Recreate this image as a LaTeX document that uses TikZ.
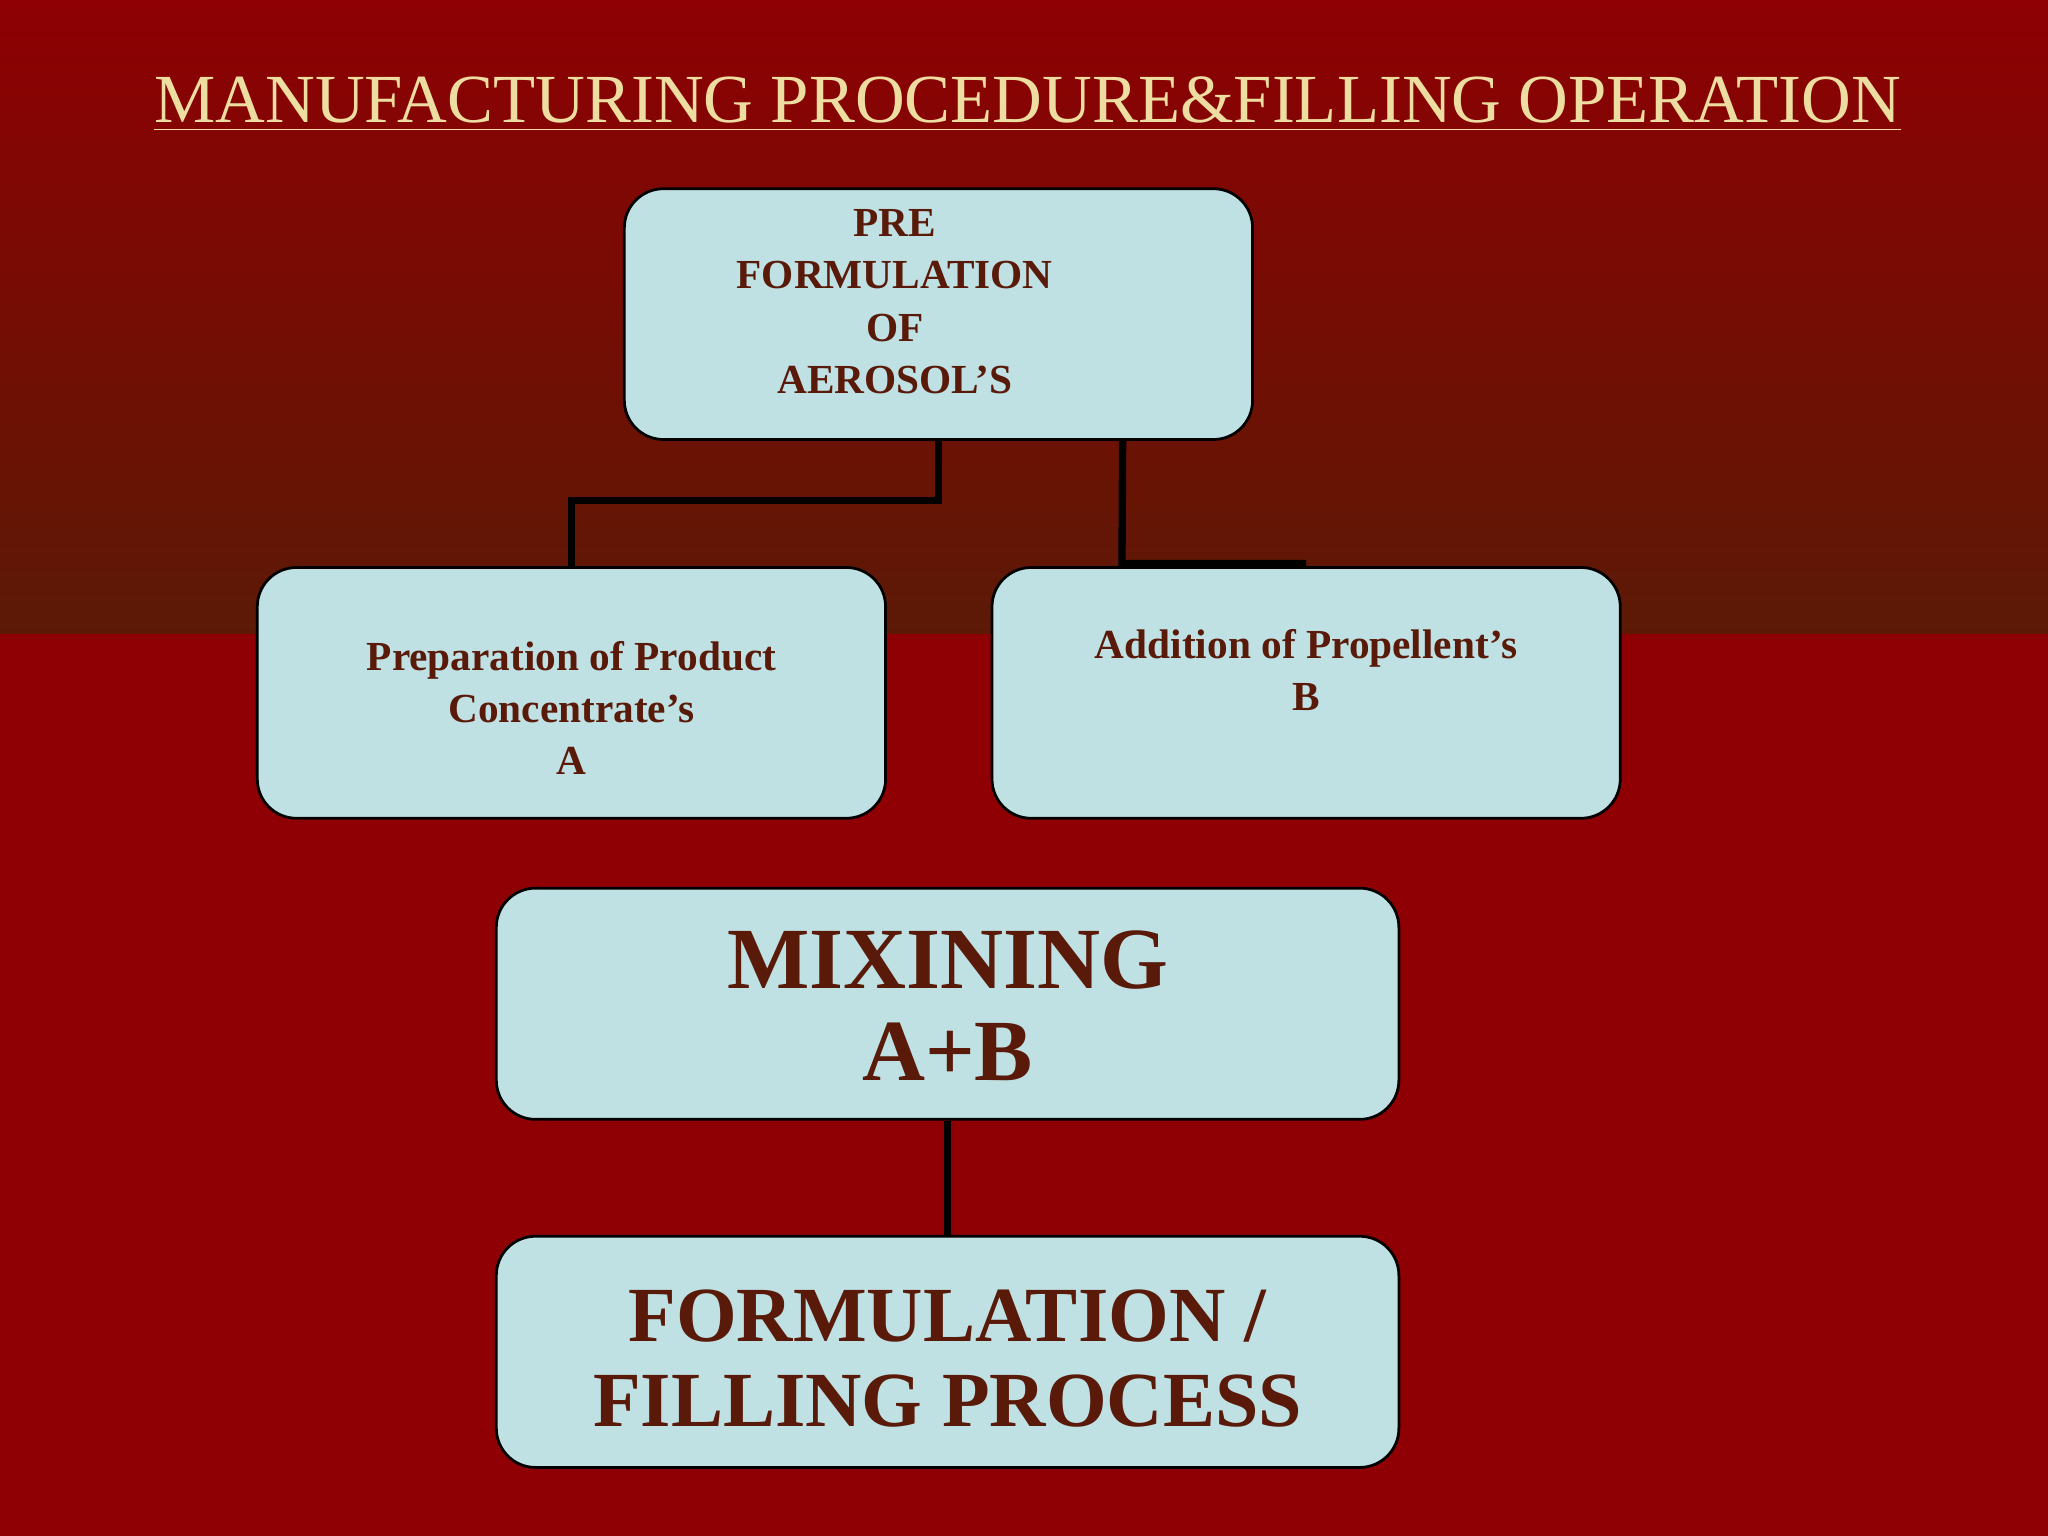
\documentclass[tikz,border=0pt]{standalone}
\usepackage{fontspec}
\setmainfont{Liberation Serif}
\usetikzlibrary{calc}
\definecolor{bgred}{HTML}{8E0003}
\definecolor{bgbrown}{HTML}{5C1A06}
\definecolor{boxfill}{HTML}{BFE1E4}
\definecolor{txt}{HTML}{5A1A0A}
\definecolor{cream}{HTML}{EEDDA0}
\tikzset{box/.style={draw=black, fill=boxfill, rounded corners=0.3cm, minimum width=4.81cm, minimum height=1.92cm, line width=0.6pt},
  lbl/.style={text=txt, font=\bfseries, align=center},
  link/.style={draw=black, line width=1.6pt}}
\begin{document}
\begin{tikzpicture}

\useasboundingbox (0,0) rectangle (15.68,-11.76);
\fill[bgred] (0,0) rectangle (15.68,-11.76);
\shade[top color=bgred, bottom color=bgbrown] (0,0) rectangle (15.68,-4.85);

\node[text=cream, font=\fontsize{15}{18}\selectfont] (title) at (7.87,-0.80) {\underline{MANUFACTURING PROCEDURE\&FILLING OPERATION}};

\node[box] (pre) at (7.185,-2.405) {};
\node[lbl, font=\bfseries\fontsize{9}{11.4}\selectfont] (pretext) at (6.85,-2.31) {PRE\\FORMULATION\\OF\\AEROSOL’S};

\node[box] (a) at (4.375,-5.305) {};
\node[lbl, font=\bfseries\fontsize{9}{11.4}\selectfont] (atext) at (4.375,-5.42) {Preparation of Product\\Concentrate's\\A};

\node[box] (b) at (10.00,-5.305) {};
\node[lbl, font=\bfseries\fontsize{9}{11.4}\selectfont] (btext) at (10.00,-5.13) {Addition of Propellent’s\\B};

\node[box, minimum width=6.91cm, minimum height=1.77cm] (mix) at (7.255,-7.685) {};
\node[lbl, font=\bfseries\fontsize{19}{20}\selectfont] (mixtext) at (7.255,-7.70) {MIXINING\\A+B};

\node[box, minimum width=6.91cm, minimum height=1.77cm] (fill) at (7.255,-10.35) {};
\node[lbl, font=\bfseries\fontsize{17}{18.5}\selectfont] (filltext) at (7.255,-10.40) {FORMULATION /\\FILLING PROCESS};

\draw[link] (pre.south) ++(0,0) |- ($(a.north)+(0,0.50)$) -- (a.north);
\draw[link] ($(pre.south)+(1.41,0)$) -- ($(b.north)+(-1.41,0.02)$) -- ($(b.north)+(0,0.02)$);
\draw[link] (mix.south) -- (fill.north);

\end{tikzpicture}
\end{document}
